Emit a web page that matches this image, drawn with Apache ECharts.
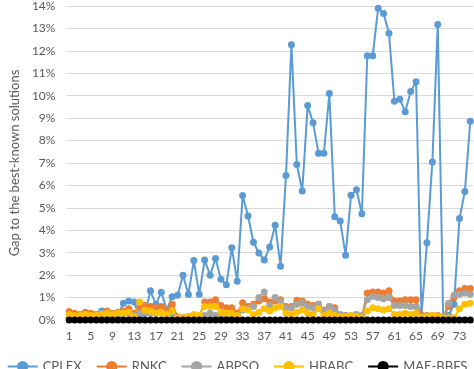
<!DOCTYPE html>
<html>
<head>
<meta charset="utf-8">
<script src="https://cdn.jsdelivr.net/npm/echarts@6/dist/echarts.min.js"></script>
<style>
html,body{margin:0;padding:0;background:#fff;}
#chart{width:474px;height:369px;}
</style>
</head>
<body>
<div id="chart"></div>
<script>
const categories = [];
for (let i = 1; i <= 75; i++) categories.push(String(i));

const cplex = [0.1,0.1,0.1,0.15,0.1,0.2,0.4,0.3,0.2,0.2,
  0.75,0.85,0.8,0.1,0.3,1.3,0.7,1.24,0.45,1.04,
  1.1,2.0,1.14,2.65,1.15,2.67,2.0,2.74,1.82,1.57,
  3.22,1.73,5.55,4.64,3.47,2.99,2.67,3.26,4.22,2.4,
  6.44,12.27,6.93,5.75,9.56,8.8,7.44,7.44,10.1,4.6,
  4.41,2.89,5.56,5.81,4.74,11.78,11.78,13.9,13.67,12.79,
  9.75,9.84,9.29,10.19,10.62,0.2,3.44,7.04,13.18,0.1,
  0.2,0.7,4.52,5.73,8.86];
const rnkc = [0.38,0.3,0.25,0.35,0.3,0.25,0.3,0.4,0.3,0.35,
  0.4,0.5,0.3,0.55,0.65,0.6,0.55,0.6,0.45,0.7,
  0.15,0.1,0.15,0.1,0.15,0.8,0.8,0.9,0.65,0.55,
  0.55,0.3,0.77,0.6,0.7,0.85,0.95,0.8,0.85,0.9,
  0.6,0.6,0.88,0.85,0.7,0.65,0.7,0.45,0.6,0.55,
  0.2,0.2,0.15,0.2,0.15,1.2,1.25,1.25,1.2,1.3,
  0.85,0.85,0.9,0.9,0.9,0.2,0.2,0.2,0.2,0.1,
  0.6,1.0,1.3,1.4,1.4];
const abpso = [0.2,0.15,0.15,0.2,0.15,0.2,0.3,0.2,0.2,0.25,
  0.3,0.3,0.2,0.3,0.35,0.3,0.3,0.35,0.2,0.3,
  0.1,0.1,0.1,0.1,0.1,0.2,0.3,0.2,0.2,0.15,
  0.2,0.2,0.45,0.5,0.6,1.0,1.25,0.65,1.0,0.8,
  0.55,0.55,0.7,0.75,0.6,0.55,0.7,0.4,0.6,0.45,
  0.25,0.2,0.2,0.25,0.2,0.9,1.05,1.0,0.95,1.0,
  0.65,0.65,0.65,0.6,0.6,0.15,0.15,0.2,0.15,0.1,
  0.75,1.1,1.15,1.2,1.15];
const hbabc = [0.25,0.2,0.2,0.25,0.2,0.2,0.25,0.3,0.25,0.3,
  0.3,0.35,0.15,0.8,0.45,0.4,0.3,0.35,0.25,0.4,
  0.1,0.1,0.15,0.25,0.2,0.6,0.6,0.6,0.35,0.3,
  0.3,0.2,0.5,0.45,0.25,0.35,0.5,0.4,0.55,0.6,
  0.3,0.25,0.35,0.45,0.3,0.25,0.5,0.2,0.3,0.2,
  0.15,0.15,0.2,0.15,0.1,0.4,0.55,0.5,0.45,0.5,
  0.25,0.25,0.3,0.25,0.3,0.1,0.15,0.2,0.15,0.1,
  0.1,0.1,0.5,0.7,0.75];
const maebbfs = [0,0,0,0,0,0,0,0,0,0,
  0,0,0,0,0,0,0,0,0,0,
  0,0,0,0,0,0,0,0,0,0,
  0,0,0,0,0,0,0,0,0,0,
  0,0,0,0,0,0,0,0,0,0,
  0,0,0,0,0,0,0,0,0,0,
  0,0,0,0,0,0,0,0,0,0,
  0,0,0,0,0];

const seriesNames = ['CPLEX','RNKC','ABPSO','HBABC','MAE-BBFS'];
const seriesData = [cplex, rnkc, abpso, hbabc, maebbfs];
const colors = ['#5B9BD5','#ED7D31','#A5A5A5','#FFC000','#000000'];

const font = 'Lato, "Open Sans", sans-serif';
const chart = echarts.init(document.getElementById('chart'));
chart.setOption({
  animation: false,
  color: colors,
  grid: {left: 51, right: 1, top: 5, bottom: 49},
  legend: {
    data: seriesNames,
    left: 'center',
    top: 355,
    itemWidth: 30,
    itemHeight: 14,
    itemGap: 14,
    textStyle: {color: '#595959', fontSize: 13, fontFamily: font}
  },
  xAxis: {
    type: 'category',
    data: categories,
    boundaryGap: true,
    axisLine: {lineStyle: {color: '#D9D9D9'}},
    axisTick: {show: false},
    axisLabel: {interval: 3, color: '#595959', fontSize: 12, fontFamily: font, margin: 10}
  },
  yAxis: {
    type: 'value',
    min: 0, max: 14, interval: 1,
    name: 'Gap to the best-known solutions',
    nameLocation: 'middle',
    nameGap: 37,
    nameTextStyle: {color: '#595959', fontSize: 13, fontFamily: font},
    axisLine: {show: false},
    axisTick: {show: false},
    splitLine: {lineStyle: {color: '#D9D9D9', width: 1}},
    axisLabel: {formatter: '{value}%', color: '#595959', fontSize: 12, fontFamily: font, margin: 11}
  },
  series: seriesNames.map((n, k) => ({
    name: n,
    type: 'line',
    data: seriesData[k],
    symbol: 'circle',
    symbolSize: 7,
    showSymbol: true,
    showAllSymbol: true,
    lineStyle: {width: 2, color: colors[k]},
    itemStyle: {color: colors[k]}
  }))
});
</script>
</body>
</html>
